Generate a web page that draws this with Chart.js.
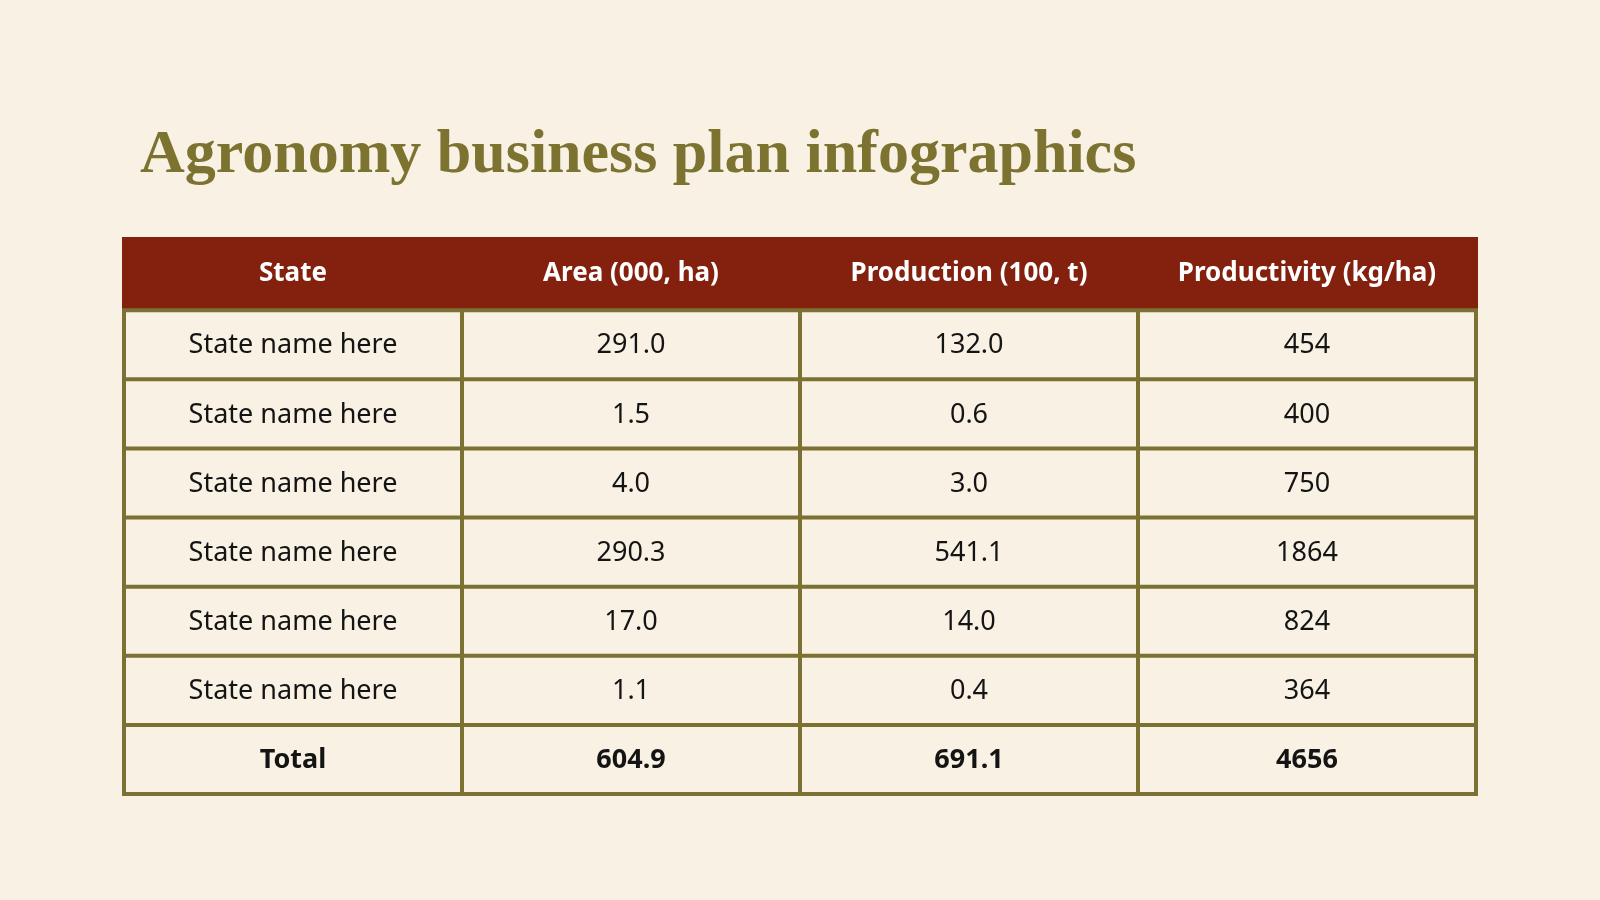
<!DOCTYPE html>
<html>
<head>
<meta charset="utf-8">
<script src="https://cdn.jsdelivr.net/npm/chart.js@4"></script>
<style>
  html, body { margin: 0; padding: 0; background: #f8f1e4; }
  #wrap { width: 1600px; height: 900px; }
</style>
</head>
<body>
<div id="wrap"><canvas id="table-chart"></canvas></div>
<script>
// Table contents
const headers = ['State', 'Area (000, ha)', 'Production (100, t)', 'Productivity (kg/ha)'];
const states = ['State name here', 'State name here', 'State name here', 'State name here', 'State name here', 'State name here'];
const area = ['291.0', '1.5', '4.0', '290.3', '17.0', '1.1'];
const production = ['132.0', '0.6', '3.0', '541.1', '14.0', '0.4'];
const productivity = ['454', '400', '750', '1864', '824', '364'];
const totals = ['Total', '604.9', '691.1', '4656'];

const titleText = 'Agronomy business plan infographics';
const headH = 72 / 68; // header row is a bit taller than body rows
const nRows = states.length + 1; // body rows incl. total

const tablePlugin = {
    id: 'tablePlugin',
    afterDraw(chart) {
        const ctx = chart.ctx;
        const xs = chart.scales.x, ys = chart.scales.y;
        const X = v => xs.getPixelForValue(v);
        const Y = v => ys.getPixelForValue(v);

        // title
        ctx.save();
        ctx.fillStyle = '#7d7331';
        ctx.font = 'bold 62px "Liberation Serif", "DejaVu Serif", serif';
        ctx.textBaseline = 'alphabetic';
        ctx.fillText(titleText, 140, 172);

        // header
        ctx.fillStyle = '#84200e';
        ctx.fillRect(X(0) - 2, Y(0), X(4) - X(0) + 4, Y(headH) - Y(0));
        ctx.fillStyle = '#ffffff';
        ctx.font = 'bold 26px "Noto Sans", Lato, sans-serif';
        ctx.textAlign = 'center';
        ctx.textBaseline = 'middle';
        headers.forEach((h, c) => ctx.fillText(h, X(c + 0.5), Y(headH / 2)));

        // body rows
        const rows = states.map((s, i) => [s, area[i], production[i], productivity[i]]);
        rows.push(totals);
        rows.forEach((row, r) => {
            const y0 = headH + r;
            ctx.fillStyle = '#141414';
            ctx.font = (r === rows.length - 1 ? 'bold ' : '') + '27px "Noto Sans", Lato, sans-serif';
            row.forEach((txt, c) => ctx.fillText(txt, X(c + 0.5), Y(y0 + 0.5) + 1));
        });

        // grid lines
        ctx.strokeStyle = '#7a7132';
        ctx.lineWidth = 4;
        ctx.beginPath();
        for (let r = 0; r <= nRows; r++) {
            const y = Y(headH + r);
            ctx.moveTo(X(0) - 2, y); ctx.lineTo(X(4) + 2, y);
        }
        for (let c = 0; c <= 4; c++) {
            ctx.moveTo(X(c), Y(headH)); ctx.lineTo(X(c), Y(headH + nRows));
        }
        ctx.stroke();
        ctx.restore();
    }
};

new Chart(document.getElementById('table-chart').getContext('2d'), {
    type: 'scatter',
    data: { datasets: [{ data: [] }] },
    options: {
        responsive: true,
        maintainAspectRatio: false,
        animation: false,
        layout: { padding: { left: 124, right: 124, top: 237, bottom: 106 } },
        plugins: { legend: { display: false }, tooltip: { enabled: false } },
        scales: {
            x: { type: 'linear', min: 0, max: 4, display: false },
            y: { type: 'linear', min: 0, max: headH + nRows, reverse: true, display: false }
        }
    },
    plugins: [tablePlugin]
});
</script>
</body>
</html>
